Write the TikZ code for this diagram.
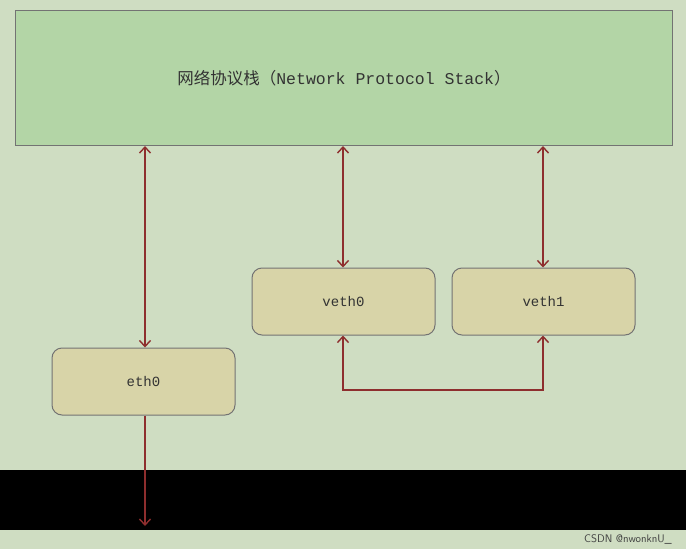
\documentclass[tikz,border=0pt]{standalone}
\usepackage{fontspec}
\setmonofont{Liberation Mono}
\newfontfamily\cjk{Noto Sans CJK SC}
\usetikzlibrary{arrows.meta}
\definecolor{bg}{HTML}{CFDDC2}
\definecolor{topc}{HTML}{B3D5A6}
\definecolor{nodec}{HTML}{D8D4A8}
\definecolor{arr}{HTML}{8E2E2E}
\tikzset{
 dev/.style={draw=gray!90!black, line width=1pt, fill=nodec, rounded corners=10pt, minimum width=183pt, minimum height=67pt, font=\ttfamily\fontsize{14}{16}\selectfont, text=black!80},
 link/.style={draw=arr, line width=1.4pt, {Straight Barb[length=6pt,width=11pt]}-{Straight Barb[length=6pt,width=11pt]}},
 one/.style={draw=arr, line width=1.4pt, -{Straight Barb[length=6pt,width=11pt]}}
}
\begin{document}
\begin{tikzpicture}[x=1pt,y=-1pt]
\fill[bg] (0,0) rectangle (686,549);
\fill[black] (0,470) rectangle (686,530);
\node[draw=gray!90!black, line width=1pt, fill=topc, minimum width=657pt, minimum height=135pt, anchor=north west, inner sep=0pt, font=\ttfamily\fontsize{16.5}{19}\selectfont, text=black!80] (stack) at (15,10) {{\cjk 网络协议栈（}Network Protocol Stack{\cjk ）}};
\node[dev] (eth0) at (143.5,381.5) {eth0};
\node[dev] (veth0) at (343.5,301.5) {veth0};
\node[dev] (veth1) at (543.5,301.5) {veth1};
\coordinate (out) at (145,526);
\draw[link] (stack.south -| 145,0) -- (eth0.north -| 145,0);
\draw[link] (stack.south -| 343,0) -- (veth0.north -| 343,0);
\draw[link] (stack.south -| 543,0) -- (veth1.north -| 543,0);
\draw[one] (eth0.south -| 145,0) -- (out);
\draw[link] (veth0.south -| 343,0) -- (343,390) -- (543,390) -- (veth1.south -| 543,0);
\node[anchor=east, inner sep=0pt, font=\sffamily\fontsize{11}{13}\selectfont, text=black!75] (wm) at (672,539.5) {CSDN @nwonknU\_};
\end{tikzpicture}
\end{document}
